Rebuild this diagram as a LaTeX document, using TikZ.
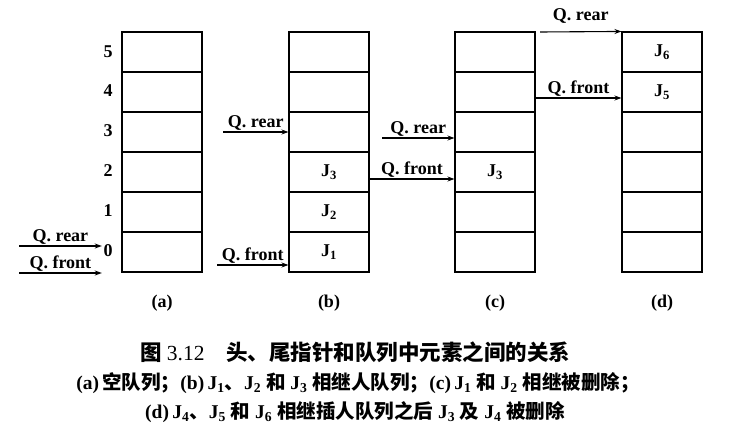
\documentclass[tikz,border=0pt]{standalone}
\usepackage{fontspec}
\setmainfont{Liberation Serif}
\newfontfamily\cjk{Noto Sans CJK SC}
\usetikzlibrary{arrows.meta}
\newcommand\Jn[1]{J\textsubscript{#1}}
\tikzset{
  cell/.style={draw,line width=1.1pt,minimum width=80pt,minimum height=40pt,inner sep=0pt,font=\bfseries\fontsize{18}{20}\selectfont},
  ptr/.style={-{Stealth[length=7pt,width=5pt]},line width=1.1pt},
  tag/.style={font=\bfseries\fontsize{18}{20}\selectfont,inner sep=1.5pt},
  note/.style={font=\bfseries\fontsize{19.5}{22}\selectfont,inner sep=0pt},
}
\begin{document}
\begin{tikzpicture}[x=1pt,y=-1pt]
  \useasboundingbox (0,0) rectangle (753,447);
  \draw
    (162,252) node[cell] (a0){} (162,212) node[cell] (a1){} (162,172) node[cell] (a2){}
    (162,132) node[cell] (a3){} (162,92) node[cell] (a4){} (162,52) node[cell] (a5){}
    (329,252) node[cell] (b0){\Jn1} (329,212) node[cell] (b1){\Jn2} (329,172) node[cell] (b2){\Jn3}
    (329,132) node[cell] (b3){} (329,92) node[cell] (b4){} (329,52) node[cell] (b5){}
    (495,252) node[cell] (c0){} (495,212) node[cell] (c1){} (495,172) node[cell] (c2){\Jn3}
    (495,132) node[cell] (c3){} (495,92) node[cell] (c4){} (495,52) node[cell] (c5){}
    (662,252) node[cell] (d0){} (662,212) node[cell] (d1){} (662,172) node[cell] (d2){}
    (662,132) node[cell] (d3){} (662,92) node[cell] (d4){\Jn5} (662,52) node[cell] (d5){\Jn6};
  \draw
    (108,251) node[tag] (n0){0} (108,211) node[tag] (n1){1} (108,171) node[tag] (n2){2}
    (108,131) node[tag] (n3){3} (108,91) node[tag] (n4){4} (108,52) node[tag] (n5){5};
  \draw
    (162,303) node[tag] (capa){(a)} (329,303) node[tag] (capb){(b)}
    (495,303) node[tag] (capc){(c)} (662,303) node[tag] (capd){(d)};
  \coordinate (arear) at (19,246);
  \coordinate (afront) at (19,273);
  \coordinate (brear) at (223,132);
  \coordinate (bfront) at (217,265);
  \coordinate (crear) at (382,138);
  \coordinate (drear) at (540,32);
  \begin{scope}[ptr]
    \draw (arear) to node[tag,above] (tarear){Q. rear} (arear -| n0.west);
    \draw (afront) to node[tag,above] (tafront){Q. front} (afront -| n0.west);
    \draw (brear) to node[tag,above] (tbrear){Q. rear} (b3.west);
    \draw (bfront) to node[tag,above] (tbfront){Q. front} (bfront -| b0.west);
    \draw ([yshift=-7pt]b2.east) to node[tag,above] (tcfront){Q. front} ([yshift=-7pt]c2.west);
    \draw (crear) to node[tag,above] (tcrear){Q. rear} (crear -| c3.west);
    \draw (drear) to node[tag,above=6pt] (tdrear){Q. rear} (d5.north west);
    \draw ([yshift=-6pt]c4.east) to node[tag,above] (tdfront){Q. front} ([yshift=-6pt]d4.west);
  \end{scope}
  \node[font=\fontsize{21.5}{24}\selectfont] (title) at (355,352)
    {{\cjk\bfseries 图}\ 3.12\quad{\cjk\bfseries 头、尾指针和队列中元素之间的关系}};
  \node[note] (note1) at (358,383)
    {(a)\,{\cjk 空队列；}(b)\,\Jn1{\cjk 、}\Jn2 {\cjk 和} \Jn3 {\cjk 相继人队列；}(c)\,\Jn1 {\cjk 和} \Jn2 {\cjk 相继被删除；}};
  \node[note] (note2) at (355,412)
    {(d)\,\Jn4{\cjk 、}\Jn5 {\cjk 和} \Jn6 {\cjk 相继插人队列之后} \Jn3 {\cjk 及} \Jn4 {\cjk 被删除}};
\end{tikzpicture}
\end{document}
